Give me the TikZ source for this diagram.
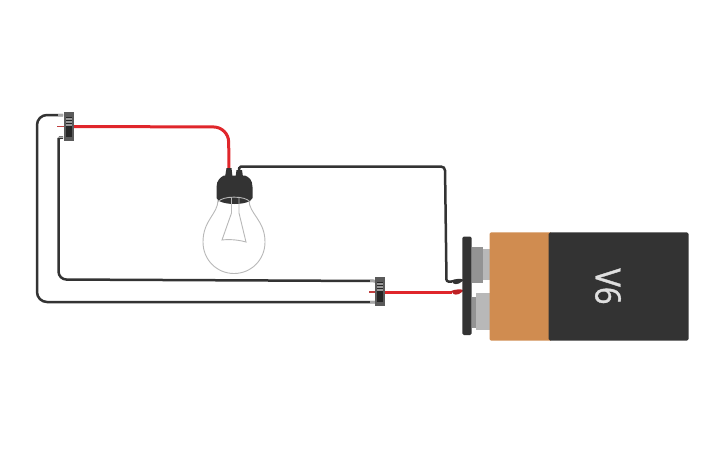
\documentclass[tikz,border=0pt]{standalone}
\usepackage{fontspec}
\newfontfamily\batteryfont[FakeBold=1.2]{Open Sans}
\definecolor{wireblack}{HTML}{333333}
\definecolor{wirered}{HTML}{E0262B}
\definecolor{bodygray}{HTML}{5A5A5A}
\definecolor{copperband}{HTML}{D08C50}
\definecolor{glassgray}{HTML}{B8B8B8}
\tikzset{
  wire/.style={line width=2.5pt,wireblack,rounded corners=10pt},
  redwire/.style={line width=3pt,wirered,rounded corners=15pt},
  lead/.style={line width=1.5pt,gray!70},
  glass/.style={glassgray,line width=.9pt},
}
% body of a slide switch, #1 and #2 are its centre
\newcommand*{\slideswitch}[2]{
  \fill[bodygray] (#1-5.5,#2-14.5) rectangle (#1+5,#2+14.5);
  \fill[black!85] (#1-3.5,#2-9.5) rectangle (#1+3,#2+10.5);
  \fill[gray!80] (#1-3,#2-8.5) rectangle (#1+2.5,#2-6.5);
  \fill[gray!80] (#1-3,#2-5.5) rectangle (#1+2.5,#2-3.5);
  \fill[gray!80] (#1-3,#2-2.5) rectangle (#1+2.5,#2-0.5);
}
\begin{document}
\begin{tikzpicture}[x=1pt,y=-1pt]
\useasboundingbox (0,0) rectangle (725,453);

% Terminals
\coordinate (swAT) at (63,115);
\coordinate (swAM) at (57,126.5);
\coordinate (swAB) at (63,137.5);
\coordinate (swAR) at (74,126.5);
\coordinate (swBT) at (375,281);
\coordinate (swBM) at (369,292);
\coordinate (swBB) at (375,302);
\coordinate (swBR) at (385,292);
\coordinate (lampL) at (229,170);
\coordinate (lampR) at (239,170);
\coordinate (battN) at (452,281.5);
\coordinate (battP) at (452,292);

% Wires
\draw[wire] (swAT) -- (37,115) -- (37,302) -- (swBB);
\draw[wire,rounded corners=1.5pt] (swAB) -- (58.5,137.5) [rounded corners=8pt] -- (58.5,279.5) -- (swBT);
\draw[redwire] (swAR) -- (228.5,127) -- (lampL);
\draw[wire,rounded corners=1.5pt] (lampR) -- (239.5,166.5) [rounded corners=4pt] -- (445,166.5) [rounded corners=2pt] -- (446.5,281.5) -- (battN);
\draw[wirered,line width=3pt] (swBR) -- (battP);

% Leads
\draw[lead] (swAT) -- +(-5,0);
\draw[lead] (swAB) -- +(-5,0);
\draw[lead,red!50!gray] (swAM) -- +(7,0);
\draw[lead] (swBT) -- +(-5,0);
\draw[lead] (swBB) -- +(-5,0);
\draw[lead,red!50!gray] (swBM) -- +(7,0);

% Switches
\slideswitch{69}{126.5}
\slideswitch{380}{291.5}

% Wire tips at the battery clip
\fill[wireblack] (battN) ++(-2,0) .. controls +(3,-3.5) and +(6,-3.5) .. (462,281.5)
  .. controls (458,285) and (453,285) .. (battN) -- cycle;
\fill[wirered!85!black] (battP) ++(-2,0) .. controls +(3,-3.5) and +(6,-3.5) .. (462,292)
  .. controls (458,295.5) and (453,295.5) .. (battP) -- cycle;

% Lamp
\draw[glass,fill=white]
  (218,200) .. controls (218,214) and (203,220) .. (203,242)
  .. controls (203,260) and (217,273.5) .. (234,273.5)
  .. controls (251,273.5) and (265,260) .. (265,242)
  .. controls (265,220) and (249,214) .. (249,200) -- cycle;
\fill[wireblack] (216.5,198) -- (216.5,187)
  .. controls (216.5,180) and (221,177) .. (224,175.5) -- (245,175.5)
  .. controls (249,177) and (252.5,180) .. (252.5,187) -- (252.5,198)
  .. controls (250,206) and (219,206) .. (216.5,198) -- cycle;
\fill[wireblack] (225,177) -- (226.5,168) -- (231.5,168) -- (232.5,177) -- cycle;
\fill[wireblack] (235.5,177) -- (236.5,170) -- (242,170) -- (243,177) -- cycle;
\draw[glass] (218,202) .. controls (222,195.5) and (246,195.5) .. (250,202);
\draw[glass] (231.5,197) -- (231.5,213) -- (222,240)
  .. controls (230,239) and (239,240) .. (246,242) -- (239,213) -- (239,197);

% Battery
\fill[glassgray] (483,249) rectangle (490,280);
\fill[gray!85] (472,246.5) rectangle (483,283);
\fill[gray!85] (472,297) rectangle (477,328);
\fill[glassgray] (476,293) rectangle (490,330);
\fill[wireblack,rounded corners=1.5pt] (462.3,236.5) rectangle (471.7,335);
\fill[copperband,rounded corners=1.5pt] (489.5,232.3) rectangle (552,340.7);
\fill[wireblack,rounded corners=1.5pt] (548.7,232.3) rectangle (688.5,340.7);
\node[rotate=-90,xscale=3.1,yscale=3.5,text=gray!25,font=\batteryfont,inner sep=0pt] (lbl) at (608,286.5) {V6};
\end{tikzpicture}
\end{document}
